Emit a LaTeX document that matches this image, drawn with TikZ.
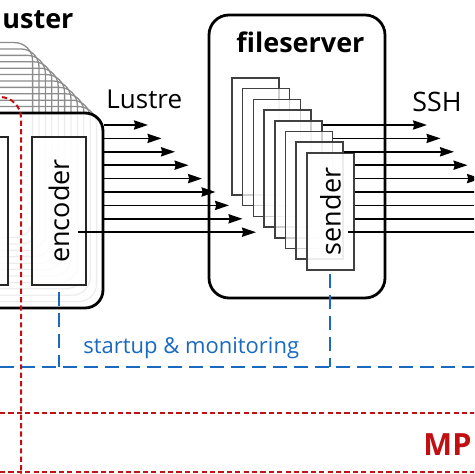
\documentclass[tikz,border=0pt]{standalone}
\usepackage{fontspec}
\setmainfont{Open Sans}
\usetikzlibrary{arrows.meta,calc}
\definecolor{myblue}{RGB}{25,105,190}
\definecolor{myred}{RGB}{192,16,20}
\tikzset{
  bigbox/.style={draw=black, line width=1.4pt, rounded corners=9pt, inner sep=0pt},
  innerbox/.style={draw=black!85, line width=0.8pt, fill=white, fill opacity=0.85, text opacity=1, inner sep=0pt},
  stackbox/.style={draw=black!75, line width=0.75pt, fill=white, fill opacity=0.75, minimum width=23.5pt, minimum height=58.5pt, inner sep=0pt},
  shadowbox/.style={draw=black!45, line width=0.65pt, rounded corners=9pt},
  arr/.style={line width=0.85pt, -{Stealth[length=7pt,width=4.6pt,inset=0.6pt]}},
  bluedash/.style={draw=myblue, line width=1pt, dash pattern=on 7pt off 3.5pt},
  reddash/.style={draw=myred, line width=1pt, dash pattern=on 2.6pt off 1.6pt},
  lbl/.style={inner sep=0pt, anchor=base west, font=\fontsize{13pt}{15pt}\selectfont},
  blbl/.style={inner sep=0pt, anchor=base west, font=\fontsize{13.5pt}{15pt}\selectfont\bfseries},
  vlbl/.style={inner sep=0pt, rotate=90, font=\fontsize{13.5pt}{15pt}\selectfont}
}
\begin{document}
\begin{tikzpicture}[x=0.5pt,y=-0.5pt]
\useasboundingbox (0,0) rectangle (474,474);
\clip (0,0) rectangle (474,474);

% shadow copies behind cluster box
\foreach \i in {11,10,...,1}{
  \draw[shadowbox] ($(-60,113)+(-6.4*\i,-6.4*\i)$) rectangle ($(103,308)+(-6.4*\i,-6.4*\i)$);
}

% cluster box
\node[bigbox, fill=white, fill opacity=0.85, minimum width=81.5pt, minimum height=97.5pt] (cluster) at (21.5,210.5) {};
\node[innerbox, minimum width=24pt, minimum height=74pt] (leftbox) at (-16,211) {};
\node[innerbox, minimum width=27pt, minimum height=74pt] (encoder) at (59,211) {};
\node[vlbl] at (encoder.center) {encoder};

% fileserver
\node[bigbox, rounded corners=10pt, minimum width=88pt, minimum height=141.5pt] (fileserver) at (297,156.5) {};
\node[blbl] (fstitle) at (236,53) {fileserver};

\foreach \i in {0,...,6}{
  \node[stackbox] (st\i) at (255.5+10.7*\i,136.5+10.7*\i) {};
}
\node[stackbox, fill opacity=0.9] (sender) at (330.4,211.4) {};
\node[vlbl] at (sender.center) {sender};

% Lustre arrows
\foreach \i in {0,...,8}{
  \coordinate (la\i) at (148+13.5*\i,125+13.4*\i);
}
\foreach \i in {0,...,7}{
  \draw[arr] (cluster.east |- la\i) -- (la\i);
}
\draw[arr] ([xshift=-4.5pt]encoder.east |- la8) -- (la8);

% SSH arrows
\foreach \i in {0,...,8}{
  \coordinate (sa\i) at (427+13.5*\i,125+13.4*\i);
}
\draw[arr] (st4.east |- sa0) -- (sa0);
\draw[arr] (st5.east |- sa1) -- (sa1);
\draw[arr] (st6.east |- sa2) -- (sa2);
\foreach \i in {3,...,7}{
  \draw[arr] (sender.east |- sa\i) -- (sa\i);
}
\draw[arr] ([xshift=-3.5pt]sender.east |- sa8) -- (sa8);

\node[lbl] (lustre) at (106,109) {Lustre};
\node[lbl, font=\fontsize{13.4pt}{15pt}\selectfont] (ssh) at (412,112) {SSH};
\node[blbl] (clustertitle) at (2,29) {uster};

% startup & monitoring
\coordinate (bl) at (0,367);
\coordinate (br) at (480,367);
\draw[bluedash] (bl) -- (br);
\draw[bluedash] ([yshift=-3pt]encoder.south) -- (encoder.south |- bl);
\draw[bluedash] ([yshift=-1.5pt]sender.south) -- (sender.south |- bl);
\node[inner sep=0pt, anchor=base west, text=myblue, font=\fontsize{11pt}{13pt}\selectfont] (startup) at (83,353) {startup \& monitoring};

% MPI
\coordinate (r1) at (-40,97);
\coordinate (r2) at (21,97);
\coordinate (r3) at (21,480);
\draw[reddash, rounded corners=10.5pt] (r1) -- (r2) -- (r3);
\coordinate (m1) at (0,413);
\coordinate (m2) at (480,413);
\coordinate (m3) at (0,472);
\coordinate (m4) at (480,472);
\draw[reddash] (m1) -- (m2);
\draw[reddash] (m3) -- (m4);
\node[inner sep=0pt, anchor=base west, text=myred, font=\fontsize{15.3pt}{17pt}\selectfont\bfseries] (mp) at (423,455) {MP};
\end{tikzpicture}
\end{document}
